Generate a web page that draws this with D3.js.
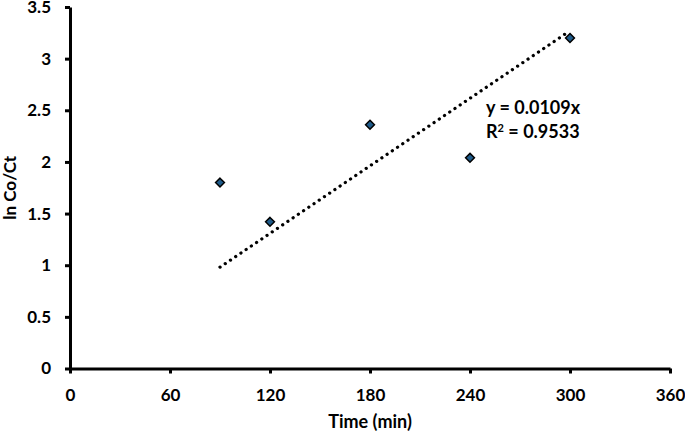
<!DOCTYPE html>
<html>
<head>
<meta charset="utf-8">
<script src="https://cdn.jsdelivr.net/npm/d3@7"></script>
<style>
  body { margin: 0; background: #fff; }
  text { font-family: Lato, "Open Sans", sans-serif; font-weight: bold; }
</style>
</head>
<body>
<svg id="chart"></svg>
<script>
// data
const times = [90, 120, 180, 240, 300];
const lnRatio = [1.8, 1.42, 2.36, 2.04, 3.2];
const xTicks = [0, 60, 120, 180, 240, 300, 360];
const yTicks = [0, 0.5, 1, 1.5, 2, 2.5, 3, 3.5];
const slope = 0.0109;
const fitRange = [90, 298];
const eqLines = ["y = 0.0109x", "R² = 0.9533"];

const W = 685, H = 435;
const margin = {top: 7, right: 15, bottom: 66.5, left: 70};

const svg = d3.select("#chart").attr("width", W).attr("height", H);

const x = d3.scaleLinear().domain([0, 360]).range([margin.left, W - margin.right]);
const y = d3.scaleLinear().domain([0, 3.5]).range([H - margin.bottom, margin.top]);

// axes
const xAxis = svg.append("g")
  .attr("transform", `translate(0,${y(0)})`)
  .call(d3.axisBottom(x).tickValues(xTicks).tickSize(5).tickSizeOuter(0).tickPadding(15));
const yAxis = svg.append("g")
  .attr("transform", `translate(${x(0)},0)`)
  .call(d3.axisLeft(y).tickValues(yTicks).tickSize(5).tickSizeOuter(0).tickPadding(14)
    .tickFormat(d3.format("")));

[xAxis, yAxis].forEach(g => {
  g.select(".domain").attr("stroke", "#000").attr("stroke-width", 3);
  g.selectAll(".tick line").attr("stroke", "#000").attr("stroke-width", 3);
  g.selectAll(".tick text").attr("fill", "#000").style("font-size", "17px");
});

// trendline
svg.append("line")
  .attr("x1", x(fitRange[0])).attr("y1", y(slope * fitRange[0]))
  .attr("x2", x(fitRange[1])).attr("y2", y(slope * fitRange[1]))
  .attr("stroke", "#000")
  .attr("stroke-width", 3.2)
  .attr("stroke-linecap", "round")
  .attr("stroke-dasharray", "0.1 6.2");

// markers
const pts = times.map((t, i) => [t, lnRatio[i]]);
svg.selectAll(".pt")
  .data(pts)
  .enter().append("path")
  .attr("class", "pt")
  .attr("d", d3.symbol().type(d3.symbolDiamond2).size(50))
  .attr("transform", d => `translate(${x(d[0])},${y(d[1])})`)
  .attr("fill", "#1f5b8a")
  .attr("stroke", "#000")
  .attr("stroke-width", 1.5);

// equation
svg.append("text")
  .attr("x", 486).attr("y", 114)
  .style("font-size", "18px")
  .text(eqLines[0]);
const r2 = svg.append("text")
  .attr("x", 486).attr("y", 138)
  .style("font-size", "18px");
r2.append("tspan").text("R");
r2.append("tspan").attr("dy", -6).style("font-size", "11px").text("2");
r2.append("tspan").attr("dy", 6).text(" = 0.9533");

// axis titles
svg.append("text")
  .attr("x", (x(0) + x(360)) / 2).attr("y", 428)
  .attr("text-anchor", "middle")
  .style("font-size", "18px")
  .text("Time (min)");
svg.append("text")
  .attr("transform", `translate(16,${(y(0) + y(3.5)) / 2}) rotate(-90)`)
  .attr("text-anchor", "middle")
  .style("font-size", "17px")
  .text("ln Co/Ct");
</script>
</body>
</html>
